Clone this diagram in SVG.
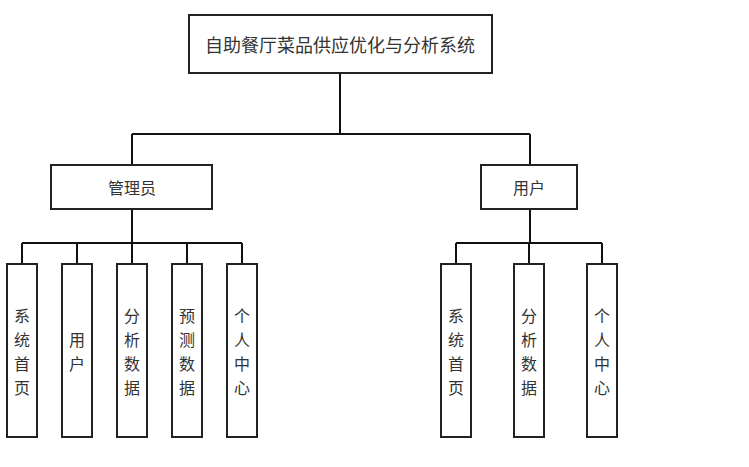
<svg xmlns="http://www.w3.org/2000/svg" width="749" height="467" viewBox="0 0 749 467">
<style>
.b{fill:#fff;stroke:#222;stroke-width:2}
.t{font-family:"Noto Sans CJK SC",sans-serif;font-size:16px;fill:#333;text-anchor:middle;dominant-baseline:central}
.c{stroke:#111;stroke-width:2;fill:none}
</style>
<rect width="749" height="467" fill="#fff"/>
<g id="connectors" class="c">
<path d="M340 73V134M132 134H530M132 134V165M530 134V165"/>
<path d="M132 209V243M22 243H242M22 243V264M77 243V264M132 243V264M187 243V264M242 243V264"/>
<path d="M530 209V243M456 243H602M456 243V264M529 243V264M602 243V264"/>
</g>
<g id="root"><rect class="b" x="189" y="15" width="303" height="58"/><text class="t" x="340" y="44" style="font-size:18px">自助餐厅菜品供应优化与分析系统</text></g>
<g id="admin"><rect class="b" x="51" y="165" width="161" height="44"/><text class="t" x="132" y="187">管理员</text></g>
<g id="user"><rect class="b" x="481" y="165" width="96" height="44"/><text class="t" x="529" y="187">用户</text></g>
<g id="a1"><rect class="b" x="7" y="264" width="30" height="173"/><text class="t" x="22"><tspan x="22" y="315">系</tspan><tspan x="22" y="339">统</tspan><tspan x="22" y="363">首</tspan><tspan x="22" y="387">页</tspan></text></g>
<g id="a2"><rect class="b" x="62" y="264" width="30" height="173"/><text class="t"><tspan x="77" y="339">用</tspan><tspan x="77" y="363">户</tspan></text></g>
<g id="a3"><rect class="b" x="117" y="264" width="30" height="173"/><text class="t"><tspan x="132" y="315">分</tspan><tspan x="132" y="339">析</tspan><tspan x="132" y="363">数</tspan><tspan x="132" y="387">据</tspan></text></g>
<g id="a4"><rect class="b" x="172" y="264" width="30" height="173"/><text class="t"><tspan x="187" y="315">预</tspan><tspan x="187" y="339">测</tspan><tspan x="187" y="363">数</tspan><tspan x="187" y="387">据</tspan></text></g>
<g id="a5"><rect class="b" x="227" y="264" width="30" height="173"/><text class="t"><tspan x="242" y="315">个</tspan><tspan x="242" y="339">人</tspan><tspan x="242" y="363">中</tspan><tspan x="242" y="387">心</tspan></text></g>
<g id="u1"><rect class="b" x="441" y="264" width="30" height="173"/><text class="t"><tspan x="456" y="315">系</tspan><tspan x="456" y="339">统</tspan><tspan x="456" y="363">首</tspan><tspan x="456" y="387">页</tspan></text></g>
<g id="u2"><rect class="b" x="514" y="264" width="30" height="173"/><text class="t"><tspan x="529" y="315">分</tspan><tspan x="529" y="339">析</tspan><tspan x="529" y="363">数</tspan><tspan x="529" y="387">据</tspan></text></g>
<g id="u3"><rect class="b" x="587" y="264" width="30" height="173"/><text class="t"><tspan x="602" y="315">个</tspan><tspan x="602" y="339">人</tspan><tspan x="602" y="363">中</tspan><tspan x="602" y="387">心</tspan></text></g>
</svg>
